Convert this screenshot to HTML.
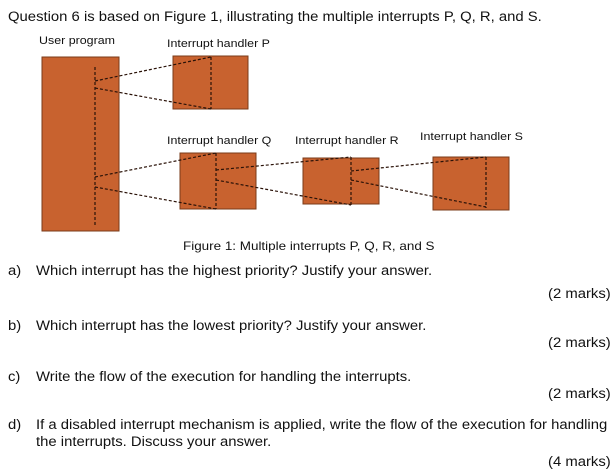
<!DOCTYPE html><html><head><style>
body{margin:0;background:#fff;width:614px;height:474px;overflow:hidden;position:relative;font-family:"Liberation Sans",sans-serif;color:#111}
.t{position:absolute;font-size:13.5px;white-space:nowrap;transform:scaleX(1.1);transform-origin:0 0}
.s{position:absolute;font-size:11px;white-space:nowrap;transform:scaleX(1.13);transform-origin:0 0}
</style></head><body>
<div class="t" style="left:8px;top:9px">Question 6 is based on Figure 1, illustrating the multiple interrupts P, Q, R, and S.</div>
<div class="s" style="left:39px;top:35px">User program</div>
<div class="s" style="left:167px;top:38px">Interrupt handler P</div>
<div class="s" style="left:167px;top:135px">Interrupt handler Q</div>
<div class="s" style="left:295px;top:135px">Interrupt handler R</div>
<div class="s" style="left:420px;top:131px">Interrupt handler S</div>
<svg style="position:absolute;left:0;top:0" width="614" height="474">
<g fill="#c8622f" stroke="#7a3b1a" stroke-width="1">
<rect x="42" y="57" width="77" height="174"/>
<rect x="173" y="56" width="75" height="53"/>
<rect x="180" y="153" width="76" height="56"/>
<rect x="303" y="158" width="76" height="46"/>
<rect x="433" y="157" width="76" height="53"/>
</g>
<g stroke="#2a1208" stroke-width="1.2" stroke-dasharray="3,2" fill="none">
<line x1="95" y1="67" x2="95" y2="225"/>
<line x1="211" y1="57" x2="211" y2="109"/>
<line x1="216" y1="153" x2="216" y2="209"/>
<line x1="351" y1="157" x2="351" y2="205"/>
<line x1="486" y1="157" x2="486" y2="208"/>
<line x1="95" y1="81" x2="211" y2="57"/>
<line x1="95" y1="88" x2="211" y2="109"/>
<line x1="95" y1="177" x2="216" y2="153"/>
<line x1="95" y1="187" x2="216" y2="209"/>
<line x1="216" y1="170" x2="351" y2="157"/>
<line x1="216" y1="180" x2="351" y2="205"/>
<line x1="351" y1="171" x2="486" y2="157"/>
<line x1="351" y1="180" x2="486" y2="207"/>
</g></svg>
<div class="s" style="left:183px;top:239px;font-size:12px;transform:scaleX(1.12)">Figure 1: Multiple interrupts P, Q, R, and S</div>
<div class="t" style="left:8px;top:263px">a)</div>
<div class="t" style="left:36px;top:263px">Which interrupt has the highest priority? Justify your answer.</div>
<div class="t" style="left:548px;top:286px">(2 marks)</div>
<div class="t" style="left:8px;top:318px">b)</div>
<div class="t" style="left:36px;top:318px">Which interrupt has the lowest priority? Justify your answer.</div>
<div class="t" style="left:548px;top:335px">(2 marks)</div>
<div class="t" style="left:8px;top:369px">c)</div>
<div class="t" style="left:36px;top:369px">Write the flow of the execution for handling the interrupts.</div>
<div class="t" style="left:548px;top:386px">(2 marks)</div>
<div class="t" style="left:8px;top:417px">d)</div>
<div class="t" style="left:36px;top:417px">If a disabled interrupt mechanism is applied, write the flow of the execution for handling</div>
<div class="t" style="left:36px;top:434px">the interrupts. Discuss your answer.</div>
<div class="t" style="left:548px;top:454px">(4 marks)</div>
</body></html>
